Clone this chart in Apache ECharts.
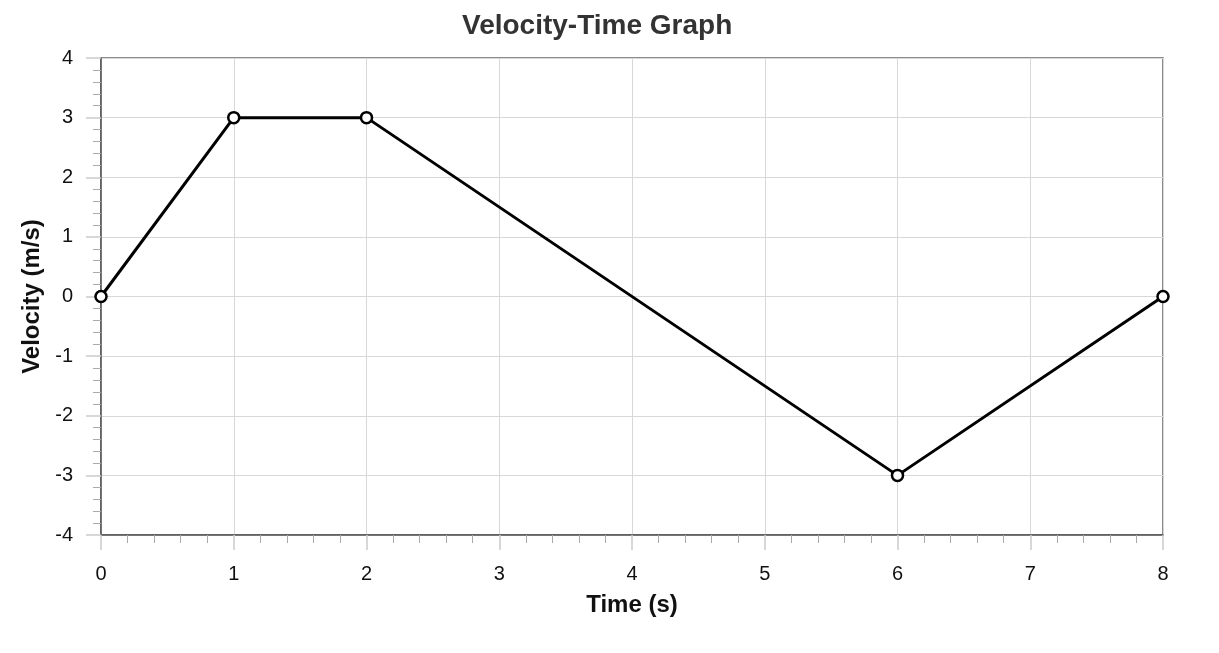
<!DOCTYPE html>
<html><head><meta charset="utf-8">
<script src="https://cdn.jsdelivr.net/npm/echarts@6/dist/echarts.min.js"></script>
<style>html,body{margin:0;padding:0;background:#fff}#c{width:1219px;height:653px}</style>
</head><body><div id="c"></div>
<script>
const times = [0, 1, 2, 6, 8];
const velocities = [0, 3, 3, -3, 0];
const xTicks = [0, 1, 2, 3, 4, 5, 6, 7, 8];
const yTicks = [-4, -3, -2, -1, 0, 1, 2, 3, 4];
const titleText = 'Velocity-Time Graph';
const xName = 'Time (s)';
const yName = 'Velocity (m/s)';

const chart = echarts.init(document.getElementById('c'));
const font = 'Liberation Sans, Arial, Helvetica, sans-serif';
chart.setOption({
  animation: false,
  title: { text: titleText, left: 462, top: 12, padding: 0, textStyle: { fontFamily: font, fontSize: 28, fontWeight: 'bold', color: '#333' } },
  grid: { left: 101, right: 56, top: 58, bottom: 118, show: true, borderColor: '#666', borderWidth: 1.5, backgroundColor: 'transparent' },
  xAxis: {
    type: 'value', min: xTicks[0], max: xTicks[xTicks.length-1], interval: 1,
    name: xName, nameLocation: 'middle', nameGap: 58,
    nameTextStyle: { fontFamily: font, fontSize: 24, fontWeight: 'bold', color: '#111' },
    axisLine: { show: true, onZero: false, lineStyle: { color: '#555', width: 1.5 } },
    axisTick: { show: true, length: 15, lineStyle: { color: '#ccc', width: 1.5 } },
    minorTick: { show: true, splitNumber: 5, length: 8, lineStyle: { color: '#aaa', width: 1 } },
    splitLine: { show: true, lineStyle: { color: '#d8d8d8', width: 1 } },
    axisLabel: { margin: 29, fontFamily: font, fontSize: 20, color: '#111' }
  },
  yAxis: {
    type: 'value', min: yTicks[0], max: yTicks[yTicks.length-1], interval: 1,
    name: yName, nameLocation: 'middle', nameGap: 53, nameRotate: 90,
    nameTextStyle: { fontFamily: font, fontSize: 24, fontWeight: 'bold', color: '#111' },
    axisLine: { show: true, onZero: false, lineStyle: { color: '#555', width: 1.5 } },
    axisTick: { show: true, length: 15, lineStyle: { color: '#ccc', width: 1.5 } },
    minorTick: { show: true, splitNumber: 5, length: 8, lineStyle: { color: '#aaa', width: 1 } },
    splitLine: { show: true, lineStyle: { color: '#d8d8d8', width: 1 } },
    axisLabel: { margin: 28, fontFamily: font, fontSize: 20, color: '#111' }
  },
  series: [{
    type: 'line',
    data: times.map((t, i) => [t, velocities[i]]),
    symbol: 'circle', symbolSize: 11,
    lineStyle: { color: '#000', width: 3 },
    itemStyle: { color: '#fff', borderColor: '#000', borderWidth: 2.5 },
    clip: false
  }]
});
</script></body></html>
